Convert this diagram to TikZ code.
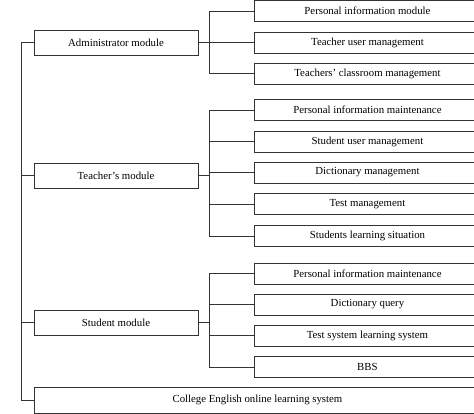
\documentclass[tikz,border=0pt]{standalone}
\usepackage{fontspec}
\setmainfont{Liberation Serif}
\begin{document}
\begin{tikzpicture}[x=1pt, y=-1pt,
	module/.style={draw=black!80, line width=0.9pt, minimum width=164pt, minimum height=25pt, inner sep=0pt, font=\fontsize{10.8}{13}\selectfont},
	submodule/.style={draw=black!80, line width=0.9pt, minimum width=226pt, minimum height=21pt, inner sep=0pt, anchor=west, font=\fontsize{10.8}{13}\selectfont},
	link/.style={black!80, line width=0.8pt}]
	\useasboundingbox (0,0) rectangle (474,414);
	\clip (0,0) rectangle (474,414);

	% Modules
	\node[module] (admin) at (116,42.5) {Administrator module};
	\node[module] (teacher) at (116,175.5) {Teacher's module};
	\node[module] (student) at (116,322.5) {Student module};
	\node[module, minimum width=446pt, minimum height=26pt, anchor=west] (system) at (34,400) {College English online learning system};

	% Sub-modules
	\node[submodule] (p1) at (254,11.25) {Personal information module};
	\node[submodule] (p2) at (254,42.5) {Teacher user management};
	\node[submodule] (p3) at (254,73.5) {Teachers' classroom management};
	\node[submodule] (p4) at (254,110) {Personal information maintenance};
	\node[submodule] (p5) at (254,141.5) {Student user management};
	\node[submodule] (p6) at (254,172.5) {Dictionary management};
	\node[submodule] (p7) at (254,204) {Test management};
	\node[submodule] (p8) at (254,236) {Students learning situation};
	\node[submodule] (p9) at (254,273.5) {Personal information maintenance};
	\node[submodule] (p10) at (254,304.5) {Dictionary query};
	\node[submodule] (p11) at (254,335.5) {Test system learning system};
	\node[submodule] (p12) at (254,367) {BBS};

	% Trunk
	\draw[link] (admin.west) -- ++(-12,0) |- (system.west);
	\draw[link] (teacher.west) -- ++(-12,0);
	\draw[link] (student.west) -- ++(-12,0);

	% Branches
	\foreach \m/\a/\b in {admin/1/3, teacher/4/8, student/9/12} {
		\draw[link] (\m.east) -- ++(11,0);
		\draw[link] ([xshift=-45pt]p\a.west) -- ([xshift=-45pt]p\b.west);
	}
	\foreach \i in {1,...,12}
		\draw[link] (p\i.west) -- ++(-45,0);
\end{tikzpicture}
\end{document}
